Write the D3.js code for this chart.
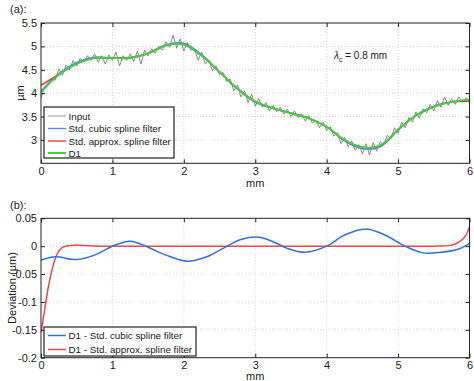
<!DOCTYPE html>
<html><head><meta charset="utf-8">
<script src="https://cdn.jsdelivr.net/npm/d3@7"></script>
<style>body{margin:0;background:#fff}svg{display:block;font-family:"Liberation Sans",Arial,sans-serif}</style>
</head><body>
<svg id="c" width="474" height="381"></svg>
<script>
// ---------- data ----------
const gridX = [0,0.25,0.5,0.75,1,1.25,1.5,1.75,2,2.25,2.5,2.75,3,3.25,3.5,3.75,4,4.25,4.5,4.75,5,5.25,5.5,5.75,6];
const d1 =    [4.02,4.39,4.63,4.75,4.75,4.76,4.85,5.02,5.04,4.80,4.45,4.10,3.82,3.68,3.57,3.46,3.28,3.00,2.84,2.88,3.22,3.52,3.71,3.81,3.86];
const cubic = [4.044,4.41,4.654,4.767,4.75,4.751,4.852,5.035,5.067,4.822,4.458,4.09,3.804,3.67,3.575,3.471,3.28,2.982,2.81,2.854,3.212,3.53,3.722,3.817,3.855];
const approx =[4.17,4.40,4.63,4.75,4.75,4.76,4.85,5.02,5.04,4.80,4.45,4.10,3.82,3.68,3.57,3.46,3.28,3.00,2.84,2.88,3.22,3.52,3.71,3.81,3.825];
const inputX = d3.range(121).map(i => i * 0.05);
const inputY = [3.90,4.12,4.20,4.30,4.28,4.52,4.38,4.60,4.50,4.70,4.58,4.74,4.66,4.80,4.70,4.84,4.66,4.80,4.62,4.82,
  4.70,4.88,4.58,4.80,4.70,4.84,4.68,4.90,4.62,4.92,4.80,4.95,4.85,5.00,4.92,5.10,4.98,5.24,4.96,5.16,
  4.90,5.08,4.92,4.94,4.70,4.88,4.62,4.70,4.48,4.58,4.40,4.44,4.25,4.30,4.05,4.18,3.92,4.05,3.80,3.98,
  3.72,3.88,3.70,3.80,3.62,3.74,3.60,3.70,3.55,3.66,3.50,3.62,3.48,3.56,3.40,3.52,3.36,3.42,3.26,3.38,
  3.20,3.28,3.08,3.16,2.92,3.06,2.86,2.98,2.78,2.90,2.70,2.92,2.68,2.94,2.76,2.96,2.90,3.10,3.02,3.26,
  3.14,3.38,3.26,3.48,3.38,3.60,3.46,3.66,3.58,3.76,3.62,3.84,3.70,3.92,3.74,3.88,3.76,3.92,3.80,3.90,3.84];
const devCubicX = [0,0.2,0.5,0.75,1.0,1.25,1.5,1.75,2.05,2.3,2.55,2.8,3.05,3.25,3.45,3.7,4.0,4.25,4.55,4.8,5.1,5.35,5.6,5.85,6.0];
const devCubicY = [-0.025,-0.019,-0.024,-0.016,0,0.009,-0.002,-0.016,-0.027,-0.02,-0.004,0.012,0.016,0.008,-0.004,-0.011,0,0.02,0.031,0.021,0,-0.012,-0.011,-0.005,0.005];
const devApproxX = [0,0.05,0.1,0.15,0.2,0.25,0.3,0.4,0.5,0.6,0.8,1.5,3,4.5,5.5,5.7,5.8,5.9,5.95,6.0];
const devApproxY = [-0.155,-0.115,-0.075,-0.045,-0.022,-0.009,-0.002,0.001,0.002,0.001,0,0,0,0,0,0.001,0.004,0.012,0.02,0.035];
const xTicks = [0,1,2,3,4,5,6];
const yTicksA = [3,3.5,4,4.5,5,5.5];
const yTicksB = [-0.2,-0.15,-0.1,-0.05,0,0.05];
const legendA = ["Input","Std. cubic spline filter","Std. approx. spline filter","D1"];
const legendB = ["D1 - Std. cubic spline filter","D1 - Std. approx. spline filter"];

// ---------- drawing ----------
const svg = d3.select("#c");
const L = 41, R = 469.5;
const x = d3.scaleLinear().domain([0,6]).range([L,R]);

function frame(y, yTicks, top, bottom){
  const g = svg.append("g");
  g.selectAll(".gx").data(xTicks.slice(1,-1)).join("line")
    .attr("x1",d=>x(d)).attr("x2",d=>x(d)).attr("y1",top).attr("y2",bottom)
    .attr("stroke","#c8c8c8").attr("stroke-dasharray","1,2").attr("stroke-width",0.8);
  g.selectAll(".gy").data(yTicks.filter(v=>y(v)>top+1 && y(v)<bottom-1)).join("line")
    .attr("y1",d=>y(d)).attr("y2",d=>y(d)).attr("x1",L).attr("x2",R)
    .attr("stroke","#c8c8c8").attr("stroke-dasharray","1,2").attr("stroke-width",0.8);
  return g;
}
function axesOver(y, yTicks, top, bottom, fmt){
  const g = svg.append("g");
  g.append("rect").attr("x",L).attr("y",top).attr("width",R-L).attr("height",bottom-top)
    .attr("fill","none").attr("stroke","#222").attr("stroke-width",1);
  const axB = d3.axisBottom(x).tickValues(xTicks).tickSize(-4).tickPadding(4).tickFormat(d3.format("d"));
  const gb = g.append("g").attr("transform",`translate(0,${bottom})`).call(axB);
  const axT = d3.axisTop(x).tickValues(xTicks).tickSize(-4).tickFormat("");
  const gt = g.append("g").attr("transform",`translate(0,${top})`).call(axT);
  const axL = d3.axisLeft(y).tickValues(yTicks).tickSize(-4).tickPadding(4).tickFormat(fmt);
  const gl = g.append("g").attr("transform",`translate(${L},0)`).call(axL);
  const axR = d3.axisRight(y).tickValues(yTicks).tickSize(-4).tickFormat("");
  const gr = g.append("g").attr("transform",`translate(${R},0)`).call(axR);
  [gb,gt,gl,gr].forEach(a=>{a.select(".domain").remove();
    a.selectAll("line").attr("stroke","#222");
    a.selectAll("text").attr("fill","#222").style("font-size","11px").style("font-family","Liberation Sans, Arial, sans-serif");});
  return g;
}

// ----- top plot -----
const topA = 23, botA = 163.3;
const yA = d3.scaleLinear().domain([2.5,5.5]).range([botA,topA]);
frame(yA, yTicksA, topA, botA);
svg.append("clipPath").attr("id","ca").append("rect").attr("x",L).attr("y",topA).attr("width",R-L).attr("height",botA-topA);
const pA = svg.append("g").attr("clip-path","url(#ca)");
const lineA = d3.line().x(d=>x(d[0])).y(d=>yA(d[1]));
pA.append("path").datum(d3.zip(inputX,inputY)).attr("d",lineA).attr("fill","none").attr("stroke","#7a7a7a").attr("stroke-width",0.9);
const smooth = d3.line().x(d=>x(d[0])).y(d=>yA(d[1])).curve(d3.curveCatmullRom);
pA.append("path").datum(d3.zip(gridX,cubic)).attr("d",smooth).attr("fill","none").attr("stroke","#4a90ee").attr("stroke-width",1.6);
pA.append("path").datum(d3.zip(gridX,approx)).attr("d",smooth).attr("fill","none").attr("stroke","#f03a3a").attr("stroke-width",1.6);
pA.append("path").datum(d3.zip(gridX,d1)).attr("d",smooth).attr("fill","none").attr("stroke","#3ad63a").attr("stroke-width",1.8);
axesOver(yA, yTicksA, topA, botA, d=>String(d));

// ----- bottom plot -----
const topB = 218.3, botB = 357.7;
const yB = d3.scaleLinear().domain([-0.2,0.05]).range([botB,topB]);
frame(yB, yTicksB, topB, botB);
svg.append("clipPath").attr("id","cb").append("rect").attr("x",L).attr("y",topB).attr("width",R-L).attr("height",botB-topB);
const pB = svg.append("g").attr("clip-path","url(#cb)");
const lineB = d3.line().x(d=>x(d[0])).y(d=>yB(d[1])).curve(d3.curveCatmullRom);
pB.append("path").datum(d3.zip(devApproxX,devApproxY)).attr("d",lineB).attr("fill","none").attr("stroke","#f04848").attr("stroke-width",1.5);
pB.append("path").datum(d3.zip(devCubicX,devCubicY)).attr("d",lineB).attr("fill","none").attr("stroke","#2f6fe6").attr("stroke-width",1.5);
axesOver(yB, yTicksB, topB, botB, d=>String(d));

// ----- labels -----
function txt(t, xx, yy, size, anchor, rot){
  const e = svg.append("text").attr("x",xx).attr("y",yy).attr("fill","#222")
    .style("font-size",size+"px").attr("text-anchor",anchor||"start").text(t);
  if(rot) e.attr("transform",`rotate(${rot},${xx},${yy})`);
  return e;
}
txt("(a):", 10, 13, 11);
txt("(b):", 10, 209, 11);
txt("mm", x(3), 187, 11, "middle");
txt("mm", x(3), 380, 11, "middle");
txt("µm", 24, 93, 11, "middle", -90);
txt("Deviation (µm)", 16, 288, 11, "middle", -90);
const lam = svg.append("text").attr("x",334).attr("y",59).attr("fill","#222").style("font-size","10px");
lam.append("tspan").text("λ").style("font-style","italic");
lam.append("tspan").text("c").attr("dy",3).style("font-size","7px");
lam.append("tspan").text(" = 0.8 mm").attr("dy",-3);

// ----- legends -----
function legend(items, colors, widths, bx, by, bw, bh, rowY){
  svg.append("rect").attr("x",bx).attr("y",by).attr("width",bw).attr("height",bh)
    .attr("fill","#fff").attr("stroke","#222").attr("stroke-width",1.2);
  items.forEach((t,i)=>{
    svg.append("line").attr("x1",bx+4).attr("x2",bx+22).attr("y1",rowY[i]).attr("y2",rowY[i])
      .attr("stroke",colors[i]).attr("stroke-width",widths[i]);
    svg.append("text").attr("x",bx+24.5).attr("y",rowY[i]+3.5).attr("fill","#222").style("font-size","9.8px").text(t);
  });
}
legend(legendA, ["#9a9a9a","#4a90ee","#f03a3a","#3ad63a"], [1,1.4,1.4,2], 44, 107, 130, 51, [116,128.5,141,153]);
legend(legendB, ["#2f6fe6","#f04848"], [1.5,1.5], 44, 327, 152, 29, [335.5,349.5]);
</script>
</body></html>
